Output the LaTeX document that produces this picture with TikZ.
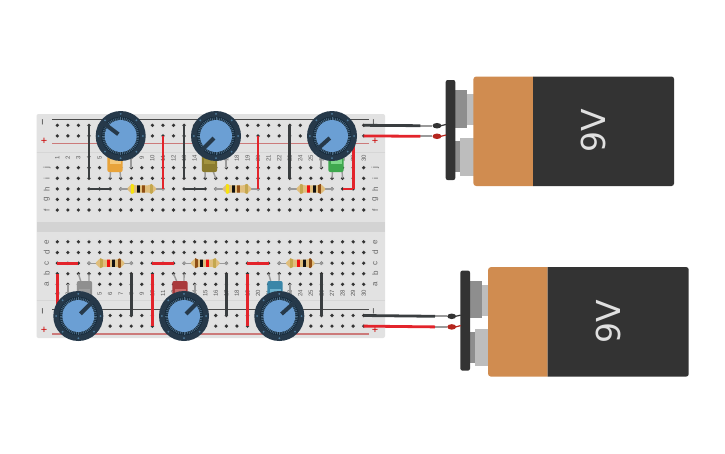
\documentclass[tikz,border=0pt]{standalone}
\usepackage{fontspec}
\setmainfont{Liberation Sans}
\newfontfamily\batfont{DejaVu Sans}
\usetikzlibrary{calc,shapes.geometric}
\definecolor{boardc}{HTML}{E2E2E2}
\definecolor{bandc}{HTML}{D3D3D3}
\definecolor{edgec}{HTML}{D6D6D6}
\definecolor{holec}{HTML}{333333}
\definecolor{wireblk}{HTML}{3A3E40}
\definecolor{wirered}{HTML}{E3242B}
\definecolor{railred}{HTML}{CC7A7A}
\definecolor{railblk}{HTML}{4A4A4A}
\definecolor{batdark}{HTML}{333333}
\definecolor{batorange}{HTML}{D08C50}
\definecolor{termdark}{HTML}{8E8E8E}
\definecolor{termlight}{HTML}{BDBDBD}
\definecolor{knobout}{HTML}{26394A}
\definecolor{knobdot}{HTML}{4F7E9F}
\definecolor{knobring}{HTML}{162A3A}
\definecolor{knobtick}{HTML}{4C6B85}
\definecolor{knobblue}{HTML}{6B9FD4}
\definecolor{restan}{HTML}{E0BE7C}
\definecolor{bgold}{HTML}{C4A74E}
\definecolor{bbrown}{HTML}{8E4E16}
\definecolor{bred}{HTML}{EE1111}
\definecolor{byel}{HTML}{F5E30F}
\definecolor{bblk}{HTML}{111111}
\definecolor{legc}{HTML}{9A9A9A}
\definecolor{conred}{HTML}{B5261E}
\definecolor{ledoa}{HTML}{E8A33A}\definecolor{ledob}{HTML}{F5C97A}
\definecolor{ledya}{HTML}{8A7B2E}\definecolor{ledyb}{HTML}{A3943F}
\definecolor{ledga}{HTML}{3FA84E}\definecolor{ledgb}{HTML}{7ED88A}
\definecolor{ledka}{HTML}{8F8F8F}\definecolor{ledkb}{HTML}{A0A0A0}
\definecolor{ledra}{HTML}{A93A3C}\definecolor{ledrb}{HTML}{C96A6A}
\definecolor{ledba}{HTML}{3A86A8}\definecolor{ledbb}{HTML}{6DB3D0}
\tikzset{
  wireb/.style={draw=wireblk,line width=2.8pt},
  wirer/.style={draw=wirered,line width=2.8pt},
  leadw/.style={draw=legc,line width=1.4pt},
  pinw/.style={draw=legc,line width=2pt},
  boardtxt/.style={text=black!65,inner sep=0pt,font=\fontsize{6}{6}\selectfont,rotate=90},
  rowtxt/.style={text=black!60,inner sep=0pt,font=\fontsize{8}{8}\selectfont,rotate=90},
  signm/.style={inner sep=0pt,rotate=90,text=black!75,font=\fontsize{11}{11}\selectfont},
  signp/.style={inner sep=0pt,text=red!80!black,font=\fontsize{11}{11}\selectfont},
  knobbody/.style={circle,fill=knobout,minimum size=50pt,inner sep=0pt},
}
% name, column a, column b, row, bands c1/x1 ... c4/x4
\newcommand{\myres}[8]{%
  \draw[leadw] (#4-#2) -- (#4-#3);
  \fill[legc] (#4-#2) circle[radius=1.8pt] (#4-#3) circle[radius=1.8pt];
  \path (#4-#2) -- (#4-#3) coordinate[midway] (#1);
  \begin{scope}[shift={(#1)}]
    \fill[restan,rounded corners=1pt] (-15,0) -- (-10,-5) -- (-7,-3.6) -- (7,-3.6) -- (10,-5) -- (15,0) -- (10,5) -- (7,3.6) -- (-7,3.6) -- (-10,5) -- cycle;
    \begin{scope}
      \clip (-15,0) -- (-10,-5) -- (-7,-3.6) -- (7,-3.6) -- (10,-5) -- (15,0) -- (10,5) -- (7,3.6) -- (-7,3.6) -- (-10,5) -- cycle;
      \foreach \bc/\bx in {#5,#6,#7,#8} {\fill[\bc] (\bx-1.5,-6) rectangle (\bx+1.5,6);}
    \end{scope}
  \end{scope}}
% name, x, y, angle of the pointer
\newcommand{\myknob}[4]{%
  \node[knobbody] (#1) at (#2,#3) {};
  \foreach \ka in {0,45,...,315} {\fill[knobdot] (#1) ++(\ka:22.2pt) circle[radius=1pt];}
  \fill[knobring] (#1) circle[radius=19.3pt];
  \foreach \ka in {0,6,...,354} {\draw[knobtick,line width=.7pt] (#1) ++(\ka:16pt) -- ++(\ka:2.6pt);}
  \fill[knobblue] (#1) circle[radius=16pt];
  \draw[knobout,line width=4pt] (#1) ++(#4:3pt) -- ++(#4:20pt);}
% name, body colour, light colour, x, ytop, ybottom
\newcommand{\myled}[6]{%
  \fill[#2,rounded corners=2pt] (#4-7.7,#5) rectangle (#4+7.7,#6);
  \fill[#3] (#4-5.5,{(#5+#6)/2-3}) rectangle (#4+5.5,{(#5+#6)/2+2});
  \coordinate (#1) at (#4,#5);}
% prefix, dx, dy
\newcommand{\mybat}[3]{%
  \begin{scope}[shift={(#2,#3)}]
    \fill[termlight] (467,94) rectangle (474,125);
    \fill[termdark] (455,90) rectangle (467,127.7);
    \fill[termdark] (455,141) rectangle (461,172);
    \fill[termlight] (460,138.3) rectangle (474,175.7);
    \fill[batdark,rounded corners=2pt] (445.7,80) rectangle (455.3,180);
    \fill[batorange] (533,76.5) [rounded corners=3pt] -- (473.3,76.5) -- (473.3,186) [sharp corners] -- (533,186) -- cycle;
    \fill[batdark] (533,76.5) [rounded corners=2.5pt] -- (674,76.5) -- (674,186) [sharp corners] -- (533,186) -- cycle;
    \node[rotate=90,text=black!12,inner sep=0pt,font=\batfont\fontsize{33}{33}\selectfont] (#1v) at (593.5,131) {9V};
    \draw[batdark,line width=1.2pt] (441,125.7) -- (446,124.5);
    \draw[conred,line width=1.2pt] (441,136.3) -- (446,135);
    \node[fill=batdark,ellipse,minimum width=9pt,minimum height=5.5pt,inner sep=0pt] (#1a) at (437,125.7) {};
    \node[fill=conred,ellipse,minimum width=9pt,minimum height=5.5pt,inner sep=0pt] (#1b) at (437,136.3) {};
  \end{scope}}
\begin{document}
\begin{tikzpicture}[x=1pt,y=-1pt]
\useasboundingbox (0,0) rectangle (725,453);
\fill[white] (0,0) rectangle (725,453);
% board
\fill[boardc,rounded corners=2pt] (36.5,114) rectangle (385,338);
\fill[bandc] (36.5,222) rectangle (385,231.5);
\draw[edgec,line width=.8pt] (36.5,152) -- (385,152);
\draw[edgec,line width=.8pt] (36.5,300.5) -- (385,300.5);
% rails
\draw[railblk,line width=1pt] (52,119) -- (369,119);
\draw[railred,line width=1.3pt] (52,143.7) -- (369,143.7);
\draw[railblk,line width=1pt] (52,309) -- (369,309);
\draw[railred,line width=1.3pt] (52,334) -- (369,334);
% holes
\foreach \cc in {1,...,30} {
  \foreach \rw/\ry in {a/284.3,b/273.7,c/263.2,d/252.5,e/241.8,f/210,g/199.4,h/188.9,i/178.3,j/167.7,m/125.3,p/135.9,n/315.5,q/326.1} {
    \coordinate (\rw-\cc) at ({57.3+10.566*(\cc-1)},\ry);
    \fill[white!88!black] (\rw-\cc) circle[radius=2.9pt];
    \fill[holec] (\rw-\cc) circle[radius=1.8pt];
  }
  \node[boardtxt] (lt\cc) at ({57.3+10.566*(\cc-1)},158) {\cc};
  \node[boardtxt] (lb\cc) at ({57.3+10.566*(\cc-1)},293.5) {\cc};
}
% row letters
\foreach \rw in {f,g,h,i,j,a,b,c,d,e} {
  \node[rowtxt] (ll\rw) at ($(\rw-1)+(-10.5,0)$) {\rw};
  \node[rowtxt] (lr\rw) at ($(\rw-30)+(11.5,0)$) {\rw};
}
\node[signm] (sa) at (44,122) {\textminus};
\node[signp] (sb) at (44,141) {+};
\node[signm] (sc) at (375,122) {\textminus};
\node[signp] (sd) at (375,141) {+};
\node[signm] (se) at (44,311.5) {\textminus};
\node[signp] (sf) at (44,330.5) {+};
\node[signm] (sg) at (375,311.5) {\textminus};
\node[signp] (sh) at (375,330.5) {+};
% resistors
\myres{r1}{7}{11}{h}{byel/-9}{bblk/-3.5}{bbrown/2}{bgold/9.5}
\myres{r2}{16}{20}{h}{byel/-9}{bblk/-3.5}{bbrown/2}{bgold/9.5}
\myres{r3}{23}{27}{h}{bgold/-9.3}{bred/-2}{bblk/3.7}{bbrown/9}
\myres{r4}{4}{8}{c}{bgold/-9}{bred/-2}{bblk/3}{bbrown/9}
\myres{r5}{13}{17}{c}{bbrown/-9}{bblk/-3.5}{bred/2}{bgold/9}
\myres{r6}{22}{26}{c}{bgold/-9}{bred/-1.5}{bblk/4}{bbrown/10}
% wires
\foreach \wa/\wb in {m-4/i-4,h-4/h-6,m-13/i-13,h-13/h-15,m-23/i-23,n-8/b-8,n-17/b-17,n-26/b-26}
  {\draw[wireb] (\wa) -- (\wb);}
\foreach \wa/\wb in {p-11/h-11,p-20/h-20,p-29/h-29,h-28/h-29,c-1/c-3,c-10/c-12,c-19/c-21,b-1/q-1,b-10/q-10,b-19/q-19}
  {\draw[wirer] (\wa) -- (\wb);}
% batteries
\mybat{bu}{0}{0}
\mybat{bl}{14.7}{190.6}
\draw[legc,line width=1.8pt] (420,125.7) -- (bua);
\draw[legc,line width=1.8pt] (420,136.3) -- (bub);
\draw[legc,line width=1.8pt] (435,316.3) -- (bla);
\draw[legc,line width=1.8pt] (435,326.9) -- (blb);
\draw[wireb] (m-30) -- ($(bua.west)+(-12,0)$);
\draw[wirer] (p-30) -- ($(bub.west)+(-12,0)$);
\draw[wireb] (n-30) -- ($(bla.west)+(-12,0)$);
\draw[wirer] (q-30) -- ($(blb.west)+(-12,0)$);
% LED legs
\foreach \la/\lb in {i-6/{110.5,171},i-7/{120,171},i-15/{205,171},i-16/{213,171},i-27/{332.5,171},i-28/{342,171}}
  {\draw[leadw] (\la) -- (\lb);}
\foreach \la/\lb in {b-3/{81,282},b-4/{89,282},b-12/{177,282},b-13/{184,282},b-21/{271,282},b-22/{279,282}}
  {\draw[leadw] (\la) -- (\lb);}
% knob pins
\draw[pinw] (j-8) -- ($(j-8)+(0,-10)$);
\draw[pinw] (j-17) -- ($(j-17)+(0,-10)$);
\draw[pinw] (j-26) -- ($(j-26)+(0,-10)$);
\draw[pinw] (a-2) -- ($(a-2)+(0,10)$);
\draw[pinw] (a-14) -- ($(a-14)+(0,10)$);
\draw[pinw] (a-23) -- ($(a-23)+(0,10)$);
% LEDs
\myled{l1}{ledoa}{ledob}{115}{152}{172}
\myled{l2}{ledya}{ledyb}{209.5}{152}{172}
\myled{l3}{ledga}{ledgb}{336}{152}{172}
\myled{l4}{ledka}{ledkb}{84.5}{281}{302}
\myled{l5}{ledra}{ledrb}{180}{281}{302}
\myled{l6}{ledba}{ledbb}{275}{281}{302}
% knobs
\myknob{k1}{120.7}{136}{143}
\myknob{k2}{216}{136}{225}
\myknob{k3}{332}{136}{222}
\myknob{k4}{78.3}{316}{45}
\myknob{k5}{184}{316}{45}
\myknob{k6}{279.3}{316}{42}
\end{tikzpicture}
\end{document}
